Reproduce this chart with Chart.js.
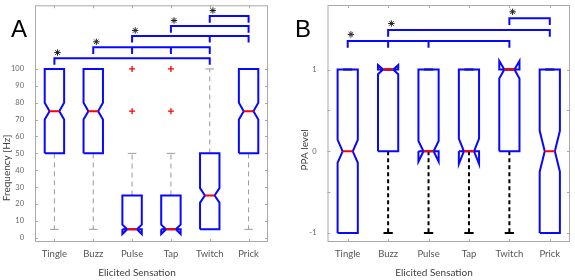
<!DOCTYPE html>
<html>
<head>
<meta charset="utf-8">
<script src="https://cdn.jsdelivr.net/npm/chart.js@4.4.0/dist/chart.umd.min.js"></script>
<style>
body { margin: 0; background: #fff; width: 575px; height: 280px; position: relative; overflow: hidden; }
canvas { position: absolute; top: 0; }
#chartA { left: 0; }
#chartB { left: 287px; }
</style>
</head>
<body>
<canvas id="chartA" width="287" height="280"></canvas>
<canvas id="chartB" width="288" height="280"></canvas>
<script>
const categories = ['Tingle', 'Buzz', 'Pulse', 'Tap', 'Twitch', 'Prick'];

// panel A - frequency [Hz]
const freqQ1 = [50, 50, 5, 5, 5, 50];
const freqMedian = [75, 75, 5, 5, 25, 75];
const freqQ3 = [100, 100, 25, 25, 50, 100];
const freqNotchLow = [70, 70, 2.2, 2.2, 20.8, 70];
const freqNotchHigh = [80, 80, 7.8, 7.8, 29.4, 80];
const freqWhiskerLow = [5, 5, 5, 5, 5, 5];
const freqWhiskerHigh = [100, 100, 50, 50, 100, 100];
const freqOutlierCat = [3, 3, 4, 4];
const freqOutlierVal = [75, 100, 75, 100];
const freqTicks = [0, 10, 20, 30, 40, 50, 60, 70, 80, 90, 100];
const freqBracketLevel = [106.4, 112.8, 119.5, 125.4, 131.3];
const freqBracketCats = [[1, 5], [2, 3, 4, 5], [3, 5, 6], [4, 6], [5, 6]];

// panel B - PPA level
const ppaQ1 = [-1, 0, 0, 0, 0, -1];
const ppaMedian = [0, 1, 0, 0, 1, 0];
const ppaQ3 = [1, 1, 1, 1, 1, 1];
const ppaNotchLow = [-0.14, 0.944, -0.126, -0.155, 0.89, -0.25];
const ppaNotchHigh = [0.14, 1.056, 0.126, 0.155, 1.106, 0.25];
const ppaWhiskerLow = [-1, -1, -1, -1, -1, -1];
const ppaWhiskerHigh = [1, 1, 1, 1, 1, 1];
const ppaTicks = [-1, -0.5, 0, 0.5, 1];
const ppaBracketLevel = [1.35, 1.484, 1.627];
const ppaBracketCats = [[1, 2, 3, 5], [2, 6], [5, 6]];

const BLUE = '#0808ff';
const RED = '#ff0000';

// turn a list of polylines into one data array, broken by nulls
function joinSegments(list) {
    const out = [];
    list.forEach((seg, i) => {
        if (i > 0) out.push({ x: seg[0].x, y: null });
        seg.forEach(p => out.push(p));
    });
    return out;
}

const matlabFrame = {
    id: 'matlabFrame',
    beforeDatasetsDraw(chart, args, opts) {
        const { ctx, chartArea: a, scales: { x, y } } = chart;
        ctx.save();
        ctx.strokeStyle = '#a9a9a9';
        ctx.lineWidth = 1;
        ctx.strokeRect(a.left + 0.5, a.top + 0.5, a.right - a.left - 1, a.bottom - a.top - 1);
        ctx.beginPath();
        x.ticks.forEach(t => {
            const px = Math.round(x.getPixelForValue(t.value)) + 0.5;
            ctx.moveTo(px, a.bottom); ctx.lineTo(px, a.bottom - 3);
            ctx.moveTo(px, a.top); ctx.lineTo(px, a.top + 3);
        });
        y.ticks.forEach(t => {
            const py = Math.round(y.getPixelForValue(t.value)) + 0.5;
            ctx.moveTo(a.left, py); ctx.lineTo(a.left + 3, py);
            ctx.moveTo(a.right, py); ctx.lineTo(a.right - 3, py);
        });
        ctx.stroke();
        ctx.restore();
    },
    afterDraw(chart, args, opts) {
        const ctx = chart.ctx;
        ctx.save();
        ctx.fillStyle = '#404040';
        ctx.font = '10px Lato';
        ctx.textAlign = 'center';
        ctx.textBaseline = 'middle';
        ctx.fillText(opts.xTitle, opts.xTitlePos[0], opts.xTitlePos[1]);
        ctx.translate(opts.yTitlePos[0], opts.yTitlePos[1]);
        ctx.rotate(-Math.PI / 2);
        ctx.fillText(opts.yTitle, 0, 0);
        ctx.restore();
        ctx.save();
        ctx.fillStyle = '#000';
        ctx.font = '24px "Liberation Sans"';
        ctx.textAlign = 'left';
        ctx.textBaseline = 'alphabetic';
        ctx.fillText(opts.tag, opts.tagPos[0], opts.tagPos[1]);
        ctx.restore();
    }
};

function boxPlot(canvasId, d) {
    const hw = 0.25, iw = 0.125, cw = d.capWidth;
    const boxes = [], medians = [], whiskers = [], caps = [];
    categories.forEach((c, i) => {
        const p = i + 1;
        boxes.push([
            { x: p - hw, y: d.q1[i] }, { x: p - hw, y: d.notchLow[i] }, { x: p - iw, y: d.median[i] },
            { x: p - hw, y: d.notchHigh[i] }, { x: p - hw, y: d.q3[i] }, { x: p + hw, y: d.q3[i] },
            { x: p + hw, y: d.notchHigh[i] }, { x: p + iw, y: d.median[i] }, { x: p + hw, y: d.notchLow[i] },
            { x: p + hw, y: d.q1[i] }, { x: p - hw, y: d.q1[i] }
        ]);
        medians.push([{ x: p - iw, y: d.median[i] }, { x: p + iw, y: d.median[i] }]);
        whiskers.push([{ x: p, y: d.q3[i] }, { x: p, y: d.whiskerHigh[i] }]);
        whiskers.push([{ x: p, y: d.q1[i] }, { x: p, y: d.whiskerLow[i] }]);
        caps.push([{ x: p - cw, y: d.whiskerHigh[i] }, { x: p + cw, y: d.whiskerHigh[i] }]);
        caps.push([{ x: p - cw, y: d.whiskerLow[i] }, { x: p + cw, y: d.whiskerLow[i] }]);
    });

    const brackets = [], stars = [];
    d.bracketLevel.forEach((lv, i) => {
        const cats = d.bracketCats[i];
        brackets.push([{ x: cats[0], y: lv }, { x: cats[cats.length - 1], y: lv }]);
        cats.forEach(c => brackets.push([{ x: c, y: lv }, { x: c, y: lv - d.drop }]));
        stars.push({ x: cats[0] + 0.08, y: lv + d.starLift });
    });

    const line = { pointRadius: 0, tension: 0, fill: false, spanGaps: false };

    return new Chart(document.getElementById(canvasId), {
        type: 'line',
        data: {
            datasets: [
                { ...line, data: joinSegments(whiskers), borderColor: d.whiskerColor, borderWidth: d.whiskerWidth, borderDash: d.whiskerDash, order: 6 },
                { ...line, data: joinSegments(caps), borderColor: d.whiskerColor, borderWidth: d.whiskerWidth, order: 5 },
                { ...line, data: joinSegments(boxes), borderColor: BLUE, borderWidth: 2, borderJoinStyle: 'miter', order: 4 },
                { ...line, data: joinSegments(medians), borderColor: RED, borderWidth: 2, order: 3 },
                { ...line, data: joinSegments(brackets), borderColor: BLUE, borderWidth: 2, borderCapStyle: 'square', order: 4 },
                { data: d.outliers, showLine: false, pointStyle: 'cross', pointRadius: 3, borderColor: RED, borderWidth: 1.3, order: 1 },
                { data: stars, showLine: false, pointStyle: 'star', pointRadius: 3.2, borderColor: '#222', borderWidth: 1, order: 1 }
            ]
        },
        options: {
            animation: false,
            responsive: false,
            devicePixelRatio: 1,
            events: [],
            layout: { padding: { top: 4, right: d.padRight, left: 0, bottom: 0 } },
            plugins: {
                legend: { display: false },
                tooltip: { enabled: false },
                matlabFrame: d.frame
            },
            scales: {
                x: {
                    type: 'linear', min: 0.5, max: 6.5,
                    afterBuildTicks: s => { s.ticks = categories.map((c, i) => ({ value: i + 1 })); },
                    afterFit: s => { s.height = 38; s.paddingLeft = 0; s.paddingRight = 0; },
                    grid: { display: false },
                    border: { display: false },
                    ticks: {
                        callback: v => categories[v - 1],
                        font: { family: 'Lato', size: 9.5 },
                        color: '#555',
                        padding: -2,
                        maxRotation: 0
                    }
                },
                y: {
                    type: 'linear', min: d.yMin, max: d.yMax,
                    afterBuildTicks: s => { s.ticks = d.ticks.map(v => ({ value: v })); },
                    afterFit: s => { s.width = d.yWidth; s.paddingTop = 0; s.paddingBottom = 0; },
                    grid: { display: false },
                    border: { display: false },
                    ticks: {
                        callback: d.tickLabel,
                        font: { family: 'Lato', size: 7.5 },
                        color: '#666',
                        padding: 3
                    }
                }
            }
        },
        plugins: [matlabFrame]
    });
}

boxPlot('chartA', {
    q1: freqQ1, median: freqMedian, q3: freqQ3,
    notchLow: freqNotchLow, notchHigh: freqNotchHigh,
    whiskerLow: freqWhiskerLow, whiskerHigh: freqWhiskerHigh,
    outliers: freqOutlierCat.map((c, i) => ({ x: c, y: freqOutlierVal[i] })),
    bracketLevel: freqBracketLevel, bracketCats: freqBracketCats,
    drop: 3.3, starLift: 3.3,
    whiskerColor: '#999', whiskerWidth: 1, whiskerDash: [5, 4], capWidth: 0.11,
    yMin: -2.5, yMax: 137.7, ticks: freqTicks, tickLabel: v => v,
    yWidth: 35, padRight: 19,
    frame: { xTitle: 'Elicited Sensation', xTitlePos: [137, 273], yTitle: 'Frequency [Hz]', yTitlePos: [6.5, 168], tag: 'A', tagPos: [11, 37] }
});

boxPlot('chartB', {
    q1: ppaQ1, median: ppaMedian, q3: ppaQ3,
    notchLow: ppaNotchLow, notchHigh: ppaNotchHigh,
    whiskerLow: ppaWhiskerLow, whiskerHigh: ppaWhiskerHigh,
    outliers: [],
    bracketLevel: ppaBracketLevel, bracketCats: ppaBracketCats,
    drop: 0.07, starLift: 0.08,
    whiskerColor: '#000', whiskerWidth: 2, whiskerDash: [4, 3], capWidth: 0.115,
    yMin: -1.11, yMax: 1.79, ticks: ppaTicks, tickLabel: v => Number.isInteger(v) ? v : '',
    yWidth: 40.5, padRight: 5,
    frame: { xTitle: 'Elicited Sensation', xTitlePos: [147, 273], yTitle: 'PPA level', yTitlePos: [18, 150], tag: 'B', tagPos: [8, 37] }
});
</script>
</body>
</html>
